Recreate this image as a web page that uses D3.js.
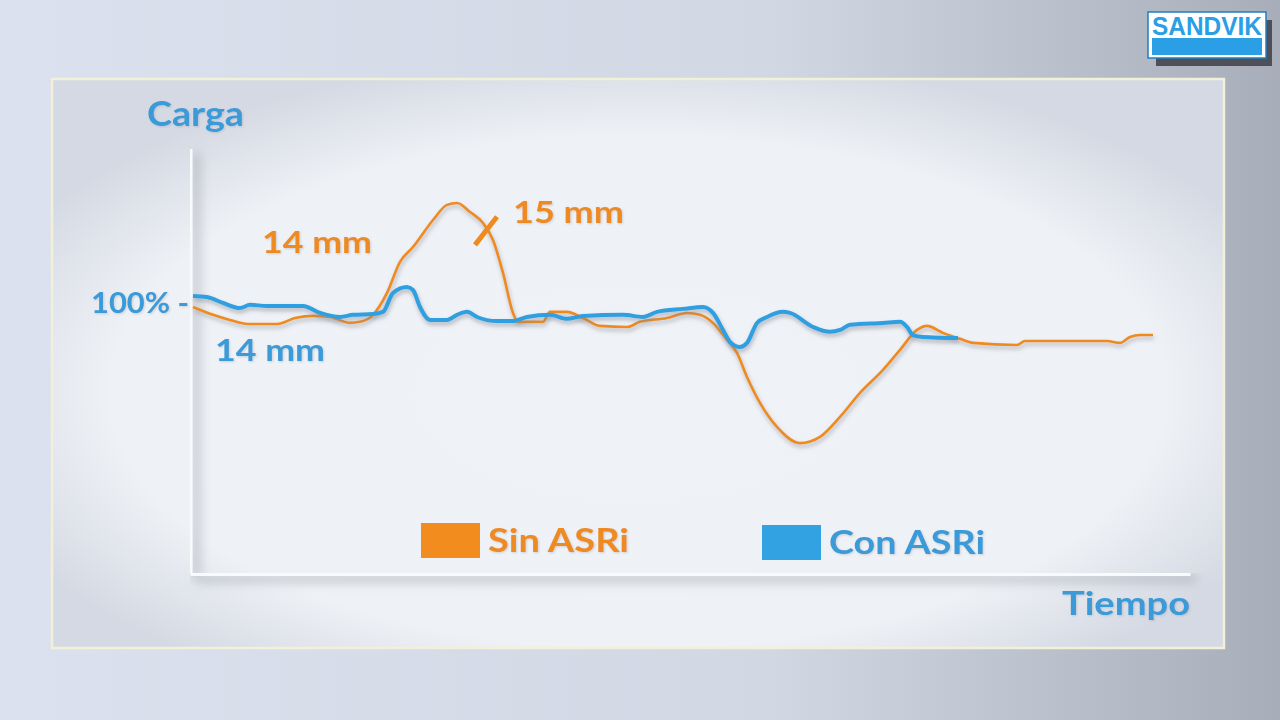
<!DOCTYPE html>
<html>
<head>
<meta charset="utf-8">
<script src="https://cdn.jsdelivr.net/npm/d3@7"></script>
<style>
  html, body { margin: 0; padding: 0; background: #d6dbe8; overflow: hidden; }
  svg { display: block; }
  text { font-family: Lato, "Open Sans", sans-serif; font-weight: 700; }
</style>
</head>
<body>
<div id="vis"></div>
<script>
const width = 1280;
const height = 720;

// Sin ASRi (orange): time (0-100) and load (%)
const sinTime = [0.3, 2.3, 4.0, 5.8, 8.7, 10.5, 12.3, 14.0, 16.0, 17.0, 18.2, 19.7, 21.0, 22.3, 24.3, 25.7, 26.7, 28.0, 29.3, 30.3, 31.3, 32.3, 32.8, 35.3, 36.0, 37.7, 39.3, 41.0, 43.7, 45.0, 47.7, 49.7, 51.0, 52.3, 53.7, 54.7, 55.7, 57.0, 58.7, 61.0, 63.0, 65.0, 67.0, 69.3, 71.0, 72.7, 73.7, 75.3, 77.0, 78.3, 82.7, 83.5, 91.7, 93.0, 94.0, 95.0, 96.3];
const sinLoad = [98.5, 95.6, 93.7, 92.2, 92.2, 94.4, 95.2, 94.8, 92.6, 93.0, 95.2, 103.7, 115.2, 120.7, 130.7, 136.3, 137.0, 133.7, 129.6, 123.3, 111.1, 96.3, 93.0, 93.0, 96.7, 96.7, 94.4, 91.5, 91.1, 93.0, 94.4, 96.3, 95.6, 92.6, 86.3, 81.5, 72.6, 63.0, 54.1, 48.1, 50.4, 57.8, 66.7, 75.2, 82.6, 90.0, 91.5, 88.9, 86.7, 85.2, 84.4, 85.9, 85.9, 85.2, 87.4, 88.1, 88.1];

// Con ASRi (blue)
const conTime = [0.3, 1.7, 3.3, 5.0, 6.0, 7.7, 11.3, 13.0, 15.0, 16.3, 18.3, 19.3, 20.3, 21.7, 22.3, 23.0, 24.0, 25.7, 26.7, 27.7, 28.7, 30.7, 32.3, 33.7, 36.0, 37.7, 39.3, 43.3, 45.3, 46.7, 49.3, 51.3, 52.3, 53.3, 54.0, 55.0, 55.7, 56.7, 57.7, 59.3, 60.0, 62.3, 64.0, 65.0, 66.0, 69.3, 71.0, 71.7, 72.3, 73.3, 76.8];
const conLoad = [102.6, 102.2, 100.0, 98.1, 99.3, 98.9, 98.9, 96.3, 94.8, 95.6, 95.9, 96.7, 103.7, 105.9, 104.8, 98.5, 93.7, 93.7, 95.6, 96.7, 94.8, 93.3, 93.3, 94.8, 95.6, 94.1, 95.2, 95.6, 94.8, 96.7, 97.8, 98.5, 96.3, 90.0, 85.6, 83.7, 85.2, 92.6, 94.8, 96.7, 96.3, 91.1, 89.3, 90.0, 91.9, 92.6, 93.0, 91.1, 88.1, 87.4, 87.0];

const seriesNames = ["Sin ASRi", "Con ASRi"];
const seriesColors = ["#ef8b1e", "#2f9fe0"];
const yTicks = [100];
const axisTitles = ["Carga", "Tiempo"];
// annotations: time, load, text
const notes = [
  { t: 7.2, v: 118.5, text: "14 mm", series: 0, w: 110 },
  { t: 32.3, v: 129.5, text: "15 mm", series: 0, w: 111 },
  { t: 2.5, v: 78.5, text: "14 mm", series: 1, w: 110 }
];
const cutMark = [[28.5, 121.5], [30.7, 131.9]];

const svg = d3.select("#vis").append("svg")
  .attr("width", width)
  .attr("height", height);

const defs = svg.append("defs");

const bg = defs.append("linearGradient").attr("id", "bg");
bg.append("stop").attr("offset", "0%").attr("stop-color", "#dce1ef");
bg.append("stop").attr("offset", "60%").attr("stop-color", "#d2d7e4");
bg.append("stop").attr("offset", "100%").attr("stop-color", "#a8adba");

const panelGrad = defs.append("radialGradient").attr("id", "panel")
  .attr("cx", "50%").attr("cy", "55%").attr("r", "60%");
panelGrad.append("stop").attr("offset", "0%").attr("stop-color", "#eff2f6");
panelGrad.append("stop").attr("offset", "75%").attr("stop-color", "#eef1f5");
panelGrad.append("stop").attr("offset", "100%").attr("stop-color", "#d5d9e3");

const shadow = defs.append("filter").attr("id", "shadow")
  .attr("x", "-10%").attr("y", "-10%").attr("width", "120%").attr("height", "130%");
shadow.append("feDropShadow")
  .attr("dx", 1).attr("dy", 3).attr("stdDeviation", 2)
  .attr("flood-color", "#7d828c").attr("flood-opacity", 0.55);

const axisShadow = defs.append("filter").attr("id", "ashadow")
  .attr("filterUnits", "userSpaceOnUse")
  .attr("x", 0).attr("y", 0).attr("width", width).attr("height", height);
axisShadow.append("feDropShadow")
  .attr("dx", 6).attr("dy", 5).attr("stdDeviation", 6)
  .attr("flood-color", "#8d929c").attr("flood-opacity", 0.75);

const txtShadow = defs.append("filter").attr("id", "tshadow");
txtShadow.append("feDropShadow")
  .attr("dx", 1).attr("dy", 1).attr("stdDeviation", 1)
  .attr("flood-color", "#8a8f99").attr("flood-opacity", 0.35);

svg.append("rect").attr("width", width).attr("height", height).attr("fill", "url(#bg)");

// panel
svg.append("rect")
  .attr("x", 52).attr("y", 79).attr("width", 1172).attr("height", 569)
  .attr("fill", "url(#panel)")
  .attr("stroke", "#f2f0d6").attr("stroke-width", 2.5);

const x = d3.scaleLinear().domain([0, 100]).range([190, 1190]);
const y = d3.scaleLinear().domain([0, 157]).range([573, 149]);

// axes
const yAxis = svg.append("g")
  .attr("transform", `translate(${x(0)},0)`)
  .call(d3.axisLeft(y).tickValues(yTicks).tickSize(0).tickSizeOuter(0).tickPadding(1)
    .tickFormat(d => d + "% -"));
yAxis.select(".domain")
  .attr("stroke", "#f9fafb").attr("stroke-width", 5)
  .attr("d", `M0,${y(157)}V${y(0)}`)
  .attr("filter", "url(#ashadow)");
yAxis.selectAll(".tick text")
  .attr("fill", "#3a9ad8").attr("font-size", 29)
  .attr("dy", "0.32em")
  .attr("textLength", 98).attr("lengthAdjust", "spacingAndGlyphs")
  .style("font-family", "Lato, sans-serif").style("font-weight", 700)
  .attr("filter", "url(#tshadow)");

const xAxis = svg.append("g")
  .attr("transform", `translate(0,${y(0)})`)
  .call(d3.axisBottom(x).tickValues([]).tickSizeOuter(0));
xAxis.select(".domain")
  .attr("stroke", "#f9fafb").attr("stroke-width", 5)
  .attr("filter", "url(#ashadow)");

// axis titles
svg.append("text")
  .attr("x", 147).attr("y", 126)
  .attr("fill", "#3a9ad8").attr("font-size", 34)
  .attr("textLength", 97).attr("lengthAdjust", "spacingAndGlyphs")
  .attr("filter", "url(#tshadow)")
  .text(axisTitles[0]);
svg.append("text")
  .attr("x", 1062).attr("y", 615)
  .attr("fill", "#3a9ad8").attr("font-size", 32)
  .attr("textLength", 128).attr("lengthAdjust", "spacingAndGlyphs")
  .attr("filter", "url(#tshadow)")
  .text(axisTitles[1]);

// lines
const line = d3.line()
  .x(d => x(d[0]))
  .y(d => y(d[1]))
  .curve(d3.curveMonotoneX);

const sinData = sinTime.map((t, i) => [t, sinLoad[i]]);
const conData = conTime.map((t, i) => [t, conLoad[i]]);

svg.append("path")
  .datum(sinData)
  .attr("fill", "none")
  .attr("stroke", seriesColors[0])
  .attr("stroke-width", 2.6)
  .attr("stroke-linejoin", "round")
  .attr("filter", "url(#shadow)")
  .attr("d", line);

svg.append("path")
  .datum(conData)
  .attr("fill", "none")
  .attr("stroke", seriesColors[1])
  .attr("stroke-width", 4)
  .attr("stroke-linejoin", "round")
  .attr("filter", "url(#shadow)")
  .attr("d", line);

// annotation slash
svg.append("line")
  .attr("x1", x(cutMark[0][0])).attr("y1", y(cutMark[0][1]))
  .attr("x2", x(cutMark[1][0])).attr("y2", y(cutMark[1][1]))
  .attr("stroke", seriesColors[0]).attr("stroke-width", 5);

svg.selectAll("text.note")
  .data(notes)
  .enter()
  .append("text")
    .classed("note", true)
    .attr("x", d => x(d.t))
    .attr("y", d => y(d.v))
    .attr("fill", d => d.series === 0 ? "#ee8a24" : "#3a9ad8")
    .attr("font-size", 31)
    .attr("textLength", d => d.w).attr("lengthAdjust", "spacingAndGlyphs")
    .attr("filter", "url(#tshadow)")
    .text(d => d.text);

// legend
const legendX = [421, 762];
const legendY = [523, 525];
const legendW = [141, 156];
const legend = svg.selectAll("g.legend")
  .data(seriesNames)
  .enter()
  .append("g")
    .classed("legend", true)
    .attr("transform", (d, i) => `translate(${legendX[i]},${legendY[i]})`);
legend.append("rect")
  .attr("width", 59).attr("height", 35)
  .attr("fill", (d, i) => i === 0 ? "#f28c1f" : "#33a2e2");
legend.append("text")
  .attr("x", 67).attr("y", 29)
  .attr("fill", (d, i) => i === 0 ? "#ee8a24" : "#3a9ad8")
  .attr("font-size", 33)
  .attr("textLength", (d, i) => legendW[i]).attr("lengthAdjust", "spacingAndGlyphs")
  .attr("filter", "url(#tshadow)")
  .text(d => d);

// logo
const logo = svg.append("g").attr("transform", "translate(1148,12)");
logo.append("rect").attr("x", 8).attr("y", 8).attr("width", 116).attr("height", 46).attr("fill", "#4e4f57");
logo.append("rect").attr("width", 118).attr("height", 46).attr("fill", "#ffffff").attr("stroke", "#1f7fc4").attr("stroke-width", 1.5);
logo.append("rect").attr("x", 4).attr("y", 26).attr("width", 110).attr("height", 17).attr("fill", "#2b9fe6");
logo.append("text")
  .attr("x", 4).attr("y", 23)
  .attr("fill", "#2b9fe6")
  .attr("font-size", 25)
  .style("font-family", "'Liberation Sans', Arial, sans-serif")
  .attr("textLength", 110).attr("lengthAdjust", "spacingAndGlyphs")
  .text("SANDVIK");
</script>
</body>
</html>
